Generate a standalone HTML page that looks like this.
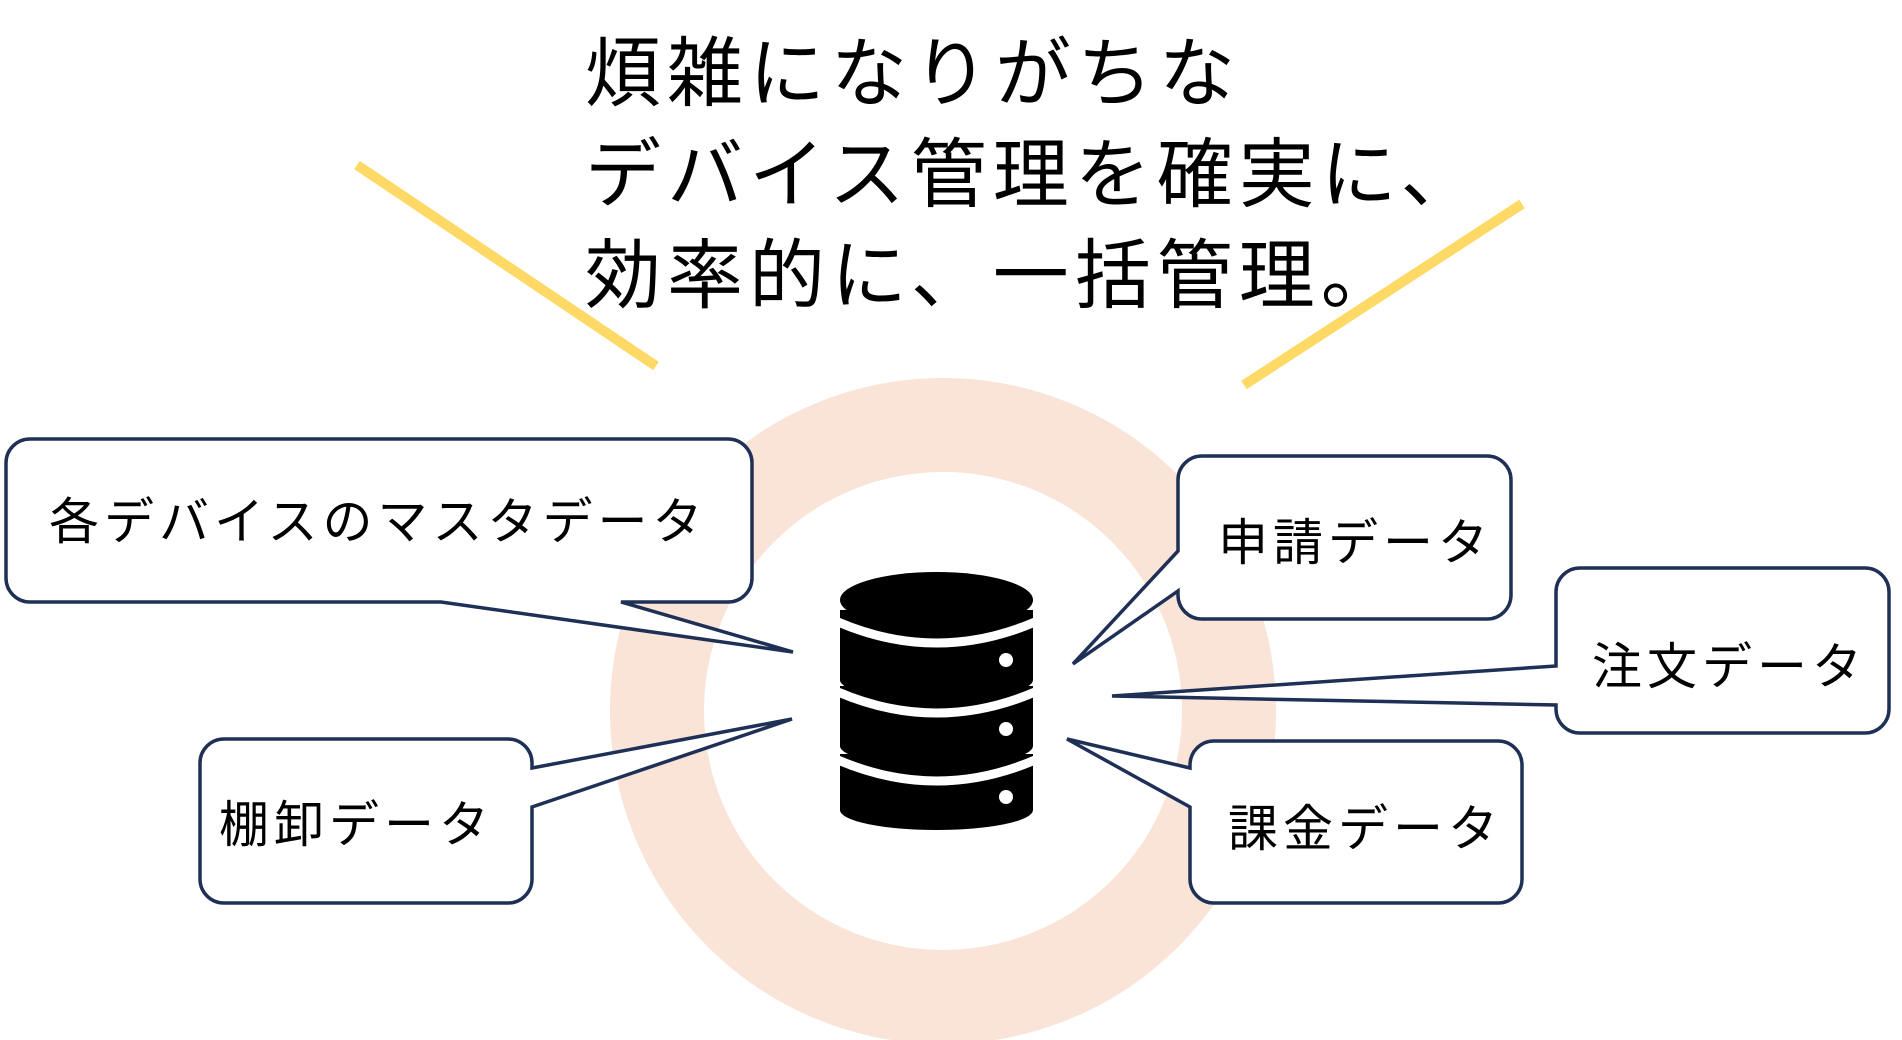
<!DOCTYPE html>
<html><head><meta charset="utf-8"><style>
html,body{margin:0;padding:0;background:#fff;width:1902px;height:1040px;overflow:hidden}
svg{display:block}
text{font-family:"Liberation Sans","Noto Sans CJK JP",sans-serif;fill:#000}
</style></head><body>
<svg width="1902" height="1040" viewBox="0 0 1902 1040" xmlns="http://www.w3.org/2000/svg">
<circle cx="943" cy="711" r="286" fill="none" stroke="#fae3d7" stroke-width="94"/>
<line x1="357" y1="165" x2="656" y2="366" stroke="#ffd966" stroke-width="10"/>
<line x1="1522" y1="204" x2="1244" y2="385" stroke="#ffd966" stroke-width="10"/>
<g font-size="76" letter-spacing="6">
<text x="585" y="100">煩雑になりがちな</text>
<text x="585" y="201">デバイス管理を確実に、</text>
<text x="585" y="302">効率的に、一括管理。</text>
</g>
<g fill="#000">
<rect x="840" y="610" width="193" height="70"/>
<ellipse cx="936.5" cy="600" rx="96.5" ry="28"/>
<ellipse cx="936.5" cy="680" rx="96.5" ry="20"/>
<rect x="840" y="686" width="193" height="60"/>
<ellipse cx="936.5" cy="746" rx="96.5" ry="20"/>
<rect x="840" y="754" width="193" height="56"/>
<ellipse cx="936.5" cy="810" rx="96.5" ry="20"/>
</g>
<g fill="none" stroke="#fff" stroke-width="9">
<path d="M838 622 Q936.5 664 1035 622"/>
<path d="M838 692 Q936.5 734 1035 692"/>
<path d="M838 760 Q936.5 802 1035 760"/>
</g>
<g fill="#fff"><circle cx="1006" cy="660" r="7"/><circle cx="1006" cy="729" r="7"/><circle cx="1006" cy="797" r="7"/></g>
<g fill="#fff" stroke="#1f3056" stroke-width="3.5" stroke-linejoin="miter">
<path d="M30 439 H728 A24 24 0 0 1 752 463 V578 A24 24 0 0 1 728 602 H621 L793 652 L441 602 H30 A24 24 0 0 1 6 578 V463 A24 24 0 0 1 30 439 Z"/>
<path d="M1202 456 H1487 A24 24 0 0 1 1511 480 V595 A24 24 0 0 1 1487 619 H1202 A24 24 0 0 1 1178 595 V591 L1073 664 L1178 551 V480 A24 24 0 0 1 1202 456 Z"/>
<path d="M1580 568 H1865 A24 24 0 0 1 1889 592 V709 A24 24 0 0 1 1865 733 H1580 A24 24 0 0 1 1556 709 V705 L1112 696 L1556 666 V592 A24 24 0 0 1 1580 568 Z"/>
<path d="M1214 741 H1498 A24 24 0 0 1 1522 765 V879 A24 24 0 0 1 1498 903 H1214 A24 24 0 0 1 1190 879 V807 L1067 739 L1190 768 V765 A24 24 0 0 1 1214 741 Z"/>
<path d="M224 739 H508 A24 24 0 0 1 532 763 V768 L792 719 L532 807 V879 A24 24 0 0 1 508 903 H224 A24 24 0 0 1 200 879 V763 A24 24 0 0 1 224 739 Z"/>
</g>
<g font-size="50" letter-spacing="5" dominant-baseline="central">
<text x="49" y="522">各デバイスのマスタデータ</text>
<text x="1218" y="543">申請データ</text>
<text x="1592" y="667">注文データ</text>
<text x="1228" y="829">課金データ</text>
<text x="219" y="825">棚卸データ</text>
</g>
</svg>
</body></html>
